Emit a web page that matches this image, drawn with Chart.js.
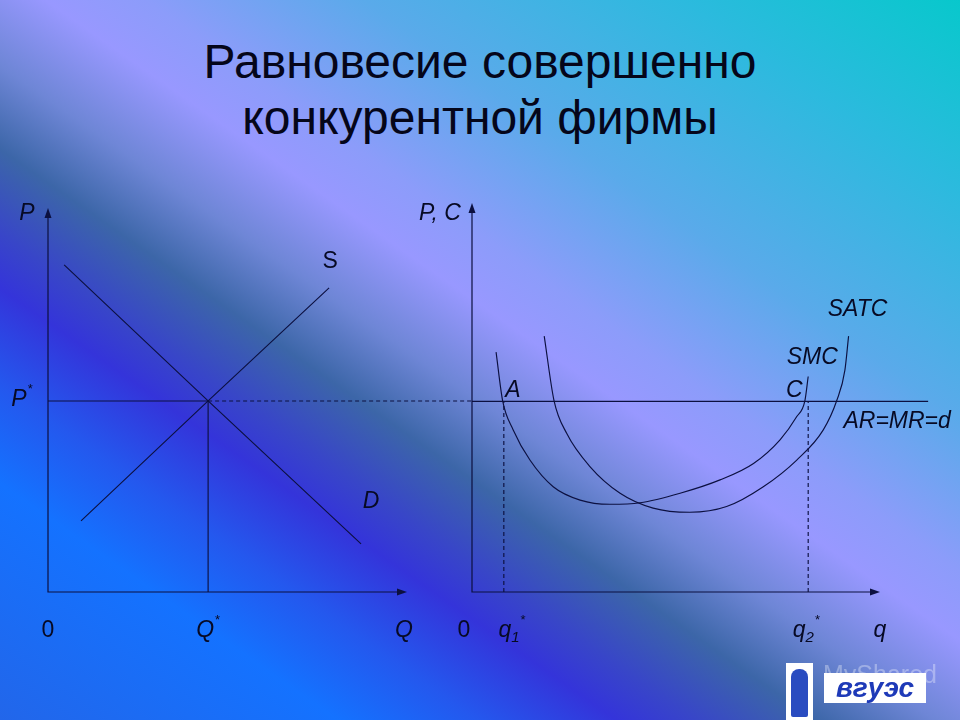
<!DOCTYPE html>
<html><head><meta charset="utf-8">
<script src="https://cdn.jsdelivr.net/npm/chart.js@4.4.1/dist/chart.umd.min.js"></script>
<style>
html,body{margin:0;padding:0;width:960px;height:720px;overflow:hidden;}
body{position:relative;background:linear-gradient(215deg,#08c8cc 0%,#2cbade 14%,#5aaaea 30%,#8c9cfa 41%,#9898ff 46%,#6e86d6 53%,#3c66a8 59%,#3846c8 65%,#3434da 69%,#2458ee 76%,#1472ff 83%,#2266ea 100%);}
#title{position:absolute;left:0;top:34px;width:960px;text-align:center;font-family:"Liberation Sans",Arial,sans-serif;font-size:48px;line-height:56px;color:#05061a;}
canvas{position:absolute;left:0;top:0;}
#wm{position:absolute;left:823px;top:662px;font-family:"Liberation Sans",sans-serif;font-size:25px;line-height:25px;color:rgba(255,255,255,0.33);}
#logo1{position:absolute;left:786px;top:663px;width:27px;height:57px;background:#fff;}
#logo1 div{position:absolute;left:5px;top:6px;width:17px;height:48px;background:#2a4cc0;border-radius:8px 8px 2px 2px;}
#logo2{position:absolute;left:824px;top:673px;width:102px;height:30px;background:#fff;font-family:"Liberation Sans",sans-serif;font-weight:bold;font-style:italic;font-size:28px;line-height:30px;color:#1e3ab8;text-align:center;}
</style></head>
<body>
<div id="title">Равновесие совершенно<br>конкурентной фирмы</div>
<canvas id="left" width="960" height="720"></canvas>
<canvas id="right" width="960" height="720"></canvas>
<div id="wm">MyShared</div>
<div id="logo1"><div></div></div>
<div id="logo2">вгуэс</div>
<script>
// ---- Data: market (left) ----
const demandQ = [0.45, 4.46, 8.72];
const demandP = [8.56, 5.0, 1.26];
const supplyQ = [0.92, 4.46, 7.83];
const supplyP = [1.86, 5.0, 7.96];
const Qstar = 4.46;
const Pstar = 5.0;
const connectorEndQ = 11.81;
// ---- Data: firm (right) ----
const smcQ = [0.59, 0.75, 1.01, 1.42, 1.99, 2.65, 3.38, 4.12, 5.10, 6.08, 6.90, 7.55, 7.96, 8.16, 8.24];
const smcC = [6.29, 5.02, 4.25, 3.46, 2.76, 2.41, 2.30, 2.34, 2.59, 2.94, 3.37, 3.99, 4.60, 5.02, 5.65];
const satcQ = [1.77, 2.01, 2.32, 2.89, 3.63, 4.44, 5.34, 6.24, 7.14, 7.96, 8.61, 8.94, 9.14, 9.23];
const satcC = [6.71, 5.02, 4.16, 3.29, 2.59, 2.20, 2.09, 2.24, 2.76, 3.46, 4.25, 5.02, 5.82, 6.71];
const q1star = 0.78;
const q2star = 8.24;
const arEndQ = 11.18;

const INK = '#0c1040';
const pts = (xs, ys) => xs.map((x, i) => ({x, y: ys[i]}));
const lineDs = (data, dashed, smooth) => ({
  data, showLine: true, borderColor: INK, borderWidth: 1.15, pointRadius: 0,
  borderDash: dashed ? [4, 3] : [], clip: false, fill: false,
  cubicInterpolationMode: smooth ? 'monotone' : 'default', tension: 0
});

const axesAndLabels = {
  id: 'axesAndLabels',
  afterDatasetsDraw(chart, args, opts) {
    const ctx = chart.ctx, a = chart.chartArea;
    const xs = chart.scales.x, ys = chart.scales.y;
    ctx.save();
    ctx.strokeStyle = INK; ctx.fillStyle = INK; ctx.lineWidth = 1.2;
    ctx.beginPath();
    ctx.moveTo(a.left, a.top + 6); ctx.lineTo(a.left, a.bottom); ctx.lineTo(a.right - 6, a.bottom);
    ctx.stroke();
    ctx.beginPath();
    ctx.moveTo(a.left, a.top); ctx.lineTo(a.left - 3.5, a.top + 10); ctx.lineTo(a.left + 3.5, a.top + 10); ctx.closePath(); ctx.fill();
    ctx.beginPath();
    ctx.moveTo(a.right, a.bottom); ctx.lineTo(a.right - 10, a.bottom - 3.5); ctx.lineTo(a.right - 10, a.bottom + 3.5); ctx.closePath(); ctx.fill();
    ctx.fillStyle = '#070a24';
    ctx.textBaseline = 'alphabetic';
    ctx.textAlign = 'left';
    (opts.labels || []).forEach(l => {
      const px = xs.getPixelForValue(l.x) + (l.dx || 0);
      const py = ys.getPixelForValue(l.y) + (l.dy || 0);
      const style = l.upright ? '' : 'italic ';
      ctx.font = style + '23px "Liberation Sans", Arial, sans-serif';
      const w = ctx.measureText(l.text).width;
      const x0 = px - w / 2;
      ctx.fillText(l.text, x0, py);
      let xe = x0 + w;
      if (l.sub) {
        ctx.font = 'italic 15px "Liberation Sans", Arial, sans-serif';
        ctx.fillText(l.sub, xe, py + 5);
        xe += ctx.measureText(l.sub).width;
      }
      if (l.sup) {
        ctx.font = '13px "Liberation Sans", Arial, sans-serif';
        ctx.fillText(l.sup, xe + 1, py - 13);
      }
    });
    ctx.restore();
  }
};

function makeChart(id, padding, xmax, ymax, datasets, labels) {
  return new Chart(document.getElementById(id), {
    type: 'scatter',
    data: { datasets },
    options: {
      responsive: false, animation: false, devicePixelRatio: 1,
      layout: { padding },
      events: [],
      plugins: { legend: { display: false }, tooltip: { enabled: false }, title: { display: false },
        axesAndLabels: { labels } },
      scales: {
        x: { type: 'linear', min: 0, max: xmax, display: false },
        y: { type: 'linear', min: 0, max: ymax, display: false }
      }
    },
    plugins: [axesAndLabels]
  });
}

makeChart('left', { left: 48, right: 553, top: 208, bottom: 128 }, 10, 10.05, [
  lineDs(pts(demandQ, demandP), false, false),
  lineDs(pts(supplyQ, supplyP), false, false),
  lineDs([{x: 0, y: Pstar}, {x: Qstar, y: Pstar}], false, false),
  lineDs([{x: Qstar, y: 0}, {x: Qstar, y: Pstar}], false, false),
  lineDs([{x: Qstar, y: Pstar}, {x: connectorEndQ, y: Pstar}], true, false)
], [
  {text: 'P', x: 0, y: 10.05, dx: -21, dy: 12},
  {text: 'S', x: supplyQ[2], y: supplyP[2], dx: 1, dy: -20, upright: true},
  {text: 'P', x: 0, y: Pstar, dx: -29, dy: 5, sup: '*'},
  {text: 'D', x: demandQ[2], y: demandP[2], dx: 10, dy: -36},
  {text: '0', x: 0, y: 0, dx: 0, dy: 45, upright: true},
  {text: 'Q', x: Qstar, y: 0, dx: -3, dy: 45, sup: '*'},
  {text: 'Q', x: 10, y: 0, dx: -3, dy: 45}
]);

makeChart('right', { left: 472, right: 80, top: 203, bottom: 128 }, 10, 10.2, [
  lineDs(pts(smcQ, smcC), false, true),
  lineDs(pts(satcQ, satcC), false, true),
  lineDs([{x: 0, y: Pstar}, {x: arEndQ, y: Pstar}], false, false),
  lineDs([{x: q1star, y: 0}, {x: q1star, y: Pstar}], true, false),
  lineDs([{x: q2star, y: 0}, {x: q2star, y: Pstar}], true, false)
], [
  {text: 'P, C', x: 0, y: 10.2, dx: -32, dy: 17},
  {text: 'SATC', x: satcQ[satcQ.length - 1], y: satcC[satcC.length - 1], dx: 9, dy: -20},
  {text: 'SMC', x: smcQ[smcQ.length - 1], y: smcC[smcC.length - 1], dx: 4, dy: -13},
  {text: 'A', x: q1star, y: Pstar, dx: 9, dy: -4},
  {text: 'C', x: q2star, y: Pstar, dx: -14, dy: -4},
  {text: 'AR=MR=d', x: arEndQ, y: Pstar, dx: -31, dy: 27},
  {text: '0', x: 0, y: 0, dx: -8, dy: 45, upright: true},
  {text: 'q', x: q1star, y: 0, dx: 1, dy: 45, sub: '1', sup: '*'},
  {text: 'q', x: q2star, y: 0, dx: -9, dy: 45, sub: '2', sup: '*'},
  {text: 'q', x: 10, y: 0, dx: 0, dy: 45}
]);
</script>
</body></html>
